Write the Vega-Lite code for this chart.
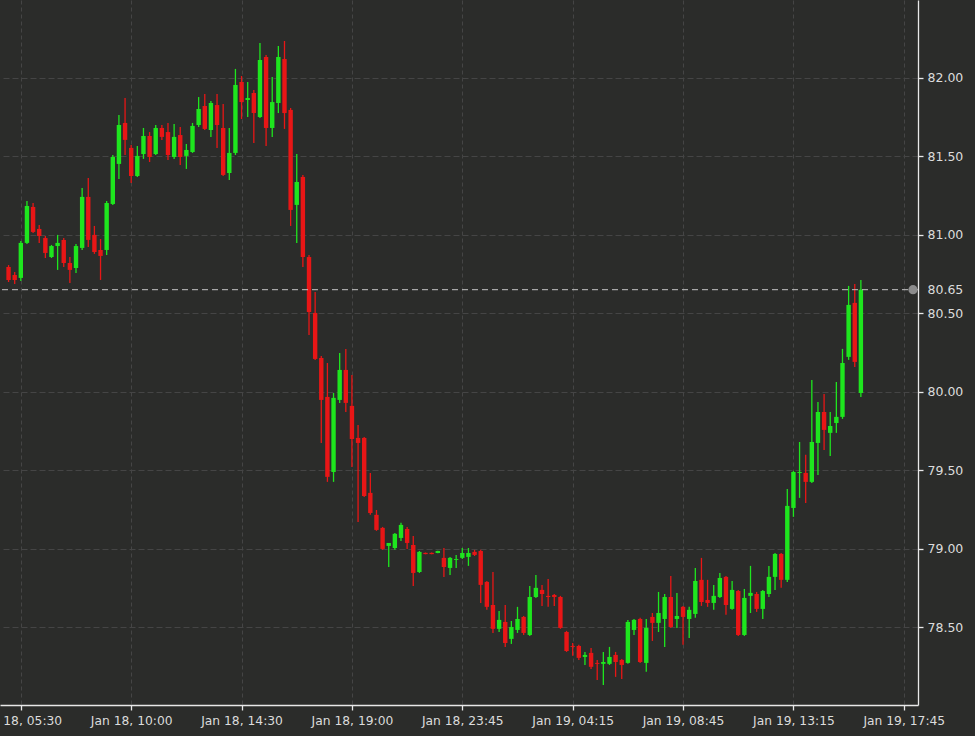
{
  "$schema": "https://vega.github.io/schema/vega-lite/v6.json",
  "width": 918,
  "height": 705,
  "autosize": {"type": "none"},
  "padding": {"left": 0, "top": 0, "right": 57, "bottom": 31},
  "background": "#2b2c2a",
  "config": {"view": {"stroke": null}},
  "data": {"values": [
    {"i":-2,"o":80.795,"h":80.807,"l":80.699,"c":80.712},
    {"i":-1,"o":80.744,"h":80.763,"l":80.687,"c":80.712},
    {"i":0,"o":80.725,"h":80.960,"l":80.706,"c":80.948},
    {"i":1,"o":80.948,"h":81.215,"l":80.941,"c":81.183},
    {"i":2,"o":81.177,"h":81.202,"l":81.011,"c":81.018},
    {"i":3,"o":81.037,"h":81.062,"l":80.948,"c":80.992},
    {"i":4,"o":80.979,"h":80.992,"l":80.852,"c":80.884},
    {"i":5,"o":80.858,"h":80.935,"l":80.852,"c":80.928},
    {"i":6,"o":80.928,"h":80.999,"l":80.776,"c":80.948},
    {"i":7,"o":80.967,"h":80.979,"l":80.795,"c":80.820},
    {"i":8,"o":80.820,"h":80.858,"l":80.693,"c":80.776},
    {"i":9,"o":80.788,"h":80.941,"l":80.757,"c":80.928},
    {"i":10,"o":80.916,"h":81.298,"l":80.903,"c":81.241},
    {"i":11,"o":81.241,"h":81.362,"l":80.922,"c":80.967},
    {"i":12,"o":80.999,"h":81.056,"l":80.878,"c":80.890},
    {"i":13,"o":80.903,"h":80.973,"l":80.712,"c":80.865},
    {"i":14,"o":80.903,"h":81.215,"l":80.871,"c":81.202},
    {"i":15,"o":81.196,"h":81.508,"l":81.190,"c":81.495},
    {"i":16,"o":81.451,"h":81.763,"l":81.355,"c":81.699},
    {"i":17,"o":81.712,"h":81.871,"l":81.508,"c":81.604},
    {"i":18,"o":81.553,"h":81.572,"l":81.330,"c":81.374},
    {"i":19,"o":81.374,"h":81.565,"l":81.368,"c":81.502},
    {"i":20,"o":81.514,"h":81.680,"l":81.483,"c":81.629},
    {"i":21,"o":81.629,"h":81.654,"l":81.463,"c":81.495},
    {"i":22,"o":81.514,"h":81.699,"l":81.508,"c":81.680},
    {"i":23,"o":81.680,"h":81.699,"l":81.604,"c":81.623},
    {"i":24,"o":81.654,"h":81.712,"l":81.476,"c":81.508},
    {"i":25,"o":81.495,"h":81.705,"l":81.483,"c":81.623},
    {"i":26,"o":81.635,"h":81.686,"l":81.444,"c":81.495},
    {"i":27,"o":81.502,"h":81.578,"l":81.419,"c":81.540},
    {"i":28,"o":81.527,"h":81.712,"l":81.521,"c":81.693},
    {"i":29,"o":81.699,"h":81.877,"l":81.686,"c":81.801},
    {"i":30,"o":81.820,"h":81.896,"l":81.667,"c":81.674},
    {"i":31,"o":81.667,"h":81.852,"l":81.623,"c":81.839},
    {"i":32,"o":81.826,"h":81.896,"l":81.553,"c":81.699},
    {"i":33,"o":81.680,"h":81.833,"l":81.374,"c":81.381},
    {"i":34,"o":81.393,"h":81.680,"l":81.349,"c":81.521},
    {"i":35,"o":81.521,"h":82.056,"l":81.508,"c":81.954},
    {"i":36,"o":81.973,"h":82.011,"l":81.737,"c":81.845},
    {"i":37,"o":81.858,"h":81.973,"l":81.750,"c":81.871},
    {"i":38,"o":81.903,"h":81.922,"l":81.584,"c":81.775},
    {"i":39,"o":81.750,"h":82.221,"l":81.744,"c":82.113},
    {"i":40,"o":82.132,"h":82.145,"l":81.565,"c":81.680},
    {"i":41,"o":81.680,"h":82.005,"l":81.623,"c":81.845},
    {"i":42,"o":81.839,"h":82.202,"l":81.775,"c":82.132},
    {"i":43,"o":82.119,"h":82.234,"l":81.674,"c":81.775},
    {"i":44,"o":81.795,"h":81.807,"l":81.056,"c":81.158},
    {"i":45,"o":81.190,"h":81.514,"l":80.948,"c":81.336},
    {"i":46,"o":81.368,"h":81.381,"l":80.795,"c":80.858},
    {"i":47,"o":80.858,"h":80.871,"l":80.362,"c":80.508},
    {"i":48,"o":80.502,"h":80.636,"l":80.203,"c":80.209},
    {"i":49,"o":80.215,"h":80.228,"l":79.674,"c":79.948},
    {"i":50,"o":79.967,"h":80.183,"l":79.426,"c":79.458},
    {"i":51,"o":79.489,"h":79.992,"l":79.426,"c":79.961},
    {"i":52,"o":79.948,"h":80.247,"l":79.929,"c":80.139},
    {"i":53,"o":80.139,"h":80.273,"l":79.871,"c":79.929},
    {"i":54,"o":79.910,"h":80.107,"l":79.521,"c":79.699},
    {"i":55,"o":79.706,"h":79.789,"l":79.171,"c":79.674},
    {"i":56,"o":79.706,"h":79.712,"l":79.330,"c":79.336},
    {"i":57,"o":79.356,"h":79.483,"l":79.216,"c":79.228},
    {"i":58,"o":79.216,"h":79.247,"l":79.114,"c":79.120},
    {"i":59,"o":79.133,"h":79.139,"l":78.993,"c":78.999},
    {"i":60,"o":79.018,"h":79.037,"l":78.884,"c":79.037},
    {"i":61,"o":79.005,"h":79.101,"l":78.993,"c":79.095},
    {"i":62,"o":79.069,"h":79.165,"l":79.050,"c":79.152},
    {"i":63,"o":79.126,"h":79.139,"l":78.999,"c":79.037},
    {"i":64,"o":79.024,"h":79.082,"l":78.763,"c":78.846},
    {"i":65,"o":78.852,"h":78.986,"l":78.846,"c":78.980},
    {"i":66,"o":78.974,"h":78.976,"l":78.965,"c":78.966},
    {"i":67,"o":78.974,"h":78.976,"l":78.965,"c":78.966},
    {"i":68,"o":78.973,"h":78.988,"l":78.972,"c":78.986},
    {"i":69,"o":78.942,"h":79.005,"l":78.821,"c":78.884},
    {"i":70,"o":78.878,"h":78.948,"l":78.833,"c":78.942},
    {"i":71,"o":78.929,"h":78.961,"l":78.878,"c":78.935},
    {"i":72,"o":78.942,"h":79.005,"l":78.935,"c":78.973},
    {"i":73,"o":78.948,"h":79.005,"l":78.891,"c":78.973},
    {"i":74,"o":78.980,"h":78.993,"l":78.954,"c":78.961},
    {"i":75,"o":78.986,"h":78.993,"l":78.655,"c":78.770},
    {"i":76,"o":78.789,"h":78.795,"l":78.611,"c":78.630},
    {"i":77,"o":78.642,"h":78.852,"l":78.464,"c":78.490},
    {"i":78,"o":78.490,"h":78.604,"l":78.470,"c":78.547},
    {"i":79,"o":78.534,"h":78.642,"l":78.375,"c":78.400},
    {"i":80,"o":78.426,"h":78.540,"l":78.394,"c":78.502},
    {"i":81,"o":78.483,"h":78.630,"l":78.464,"c":78.553},
    {"i":82,"o":78.566,"h":78.572,"l":78.451,"c":78.464},
    {"i":83,"o":78.451,"h":78.763,"l":78.445,"c":78.693},
    {"i":84,"o":78.693,"h":78.833,"l":78.687,"c":78.751},
    {"i":85,"o":78.738,"h":78.770,"l":78.636,"c":78.712},
    {"i":86,"o":78.700,"h":78.808,"l":78.630,"c":78.693},
    {"i":87,"o":78.706,"h":78.712,"l":78.636,"c":78.693},
    {"i":88,"o":78.693,"h":78.700,"l":78.490,"c":78.496},
    {"i":89,"o":78.470,"h":78.477,"l":78.343,"c":78.349},
    {"i":90,"o":78.381,"h":78.400,"l":78.318,"c":78.375},
    {"i":91,"o":78.381,"h":78.388,"l":78.292,"c":78.305},
    {"i":92,"o":78.311,"h":78.343,"l":78.260,"c":78.324},
    {"i":93,"o":78.337,"h":78.368,"l":78.235,"c":78.248},
    {"i":94,"o":78.273,"h":78.292,"l":78.165,"c":78.267},
    {"i":95,"o":78.267,"h":78.343,"l":78.133,"c":78.279},
    {"i":96,"o":78.267,"h":78.375,"l":78.260,"c":78.311},
    {"i":97,"o":78.324,"h":78.343,"l":78.184,"c":78.279},
    {"i":98,"o":78.292,"h":78.298,"l":78.171,"c":78.260},
    {"i":99,"o":78.273,"h":78.547,"l":78.267,"c":78.534},
    {"i":100,"o":78.483,"h":78.553,"l":78.451,"c":78.547},
    {"i":101,"o":78.553,"h":78.560,"l":78.273,"c":78.279},
    {"i":102,"o":78.273,"h":78.553,"l":78.216,"c":78.496},
    {"i":103,"o":78.566,"h":78.591,"l":78.413,"c":78.528},
    {"i":104,"o":78.528,"h":78.725,"l":78.470,"c":78.591},
    {"i":105,"o":78.553,"h":78.712,"l":78.375,"c":78.693},
    {"i":106,"o":78.693,"h":78.827,"l":78.496,"c":78.502},
    {"i":107,"o":78.553,"h":78.719,"l":78.496,"c":78.572},
    {"i":108,"o":78.630,"h":78.636,"l":78.388,"c":78.566},
    {"i":109,"o":78.553,"h":78.630,"l":78.432,"c":78.611},
    {"i":110,"o":78.585,"h":78.878,"l":78.560,"c":78.795},
    {"i":111,"o":78.802,"h":78.942,"l":78.636,"c":78.661},
    {"i":112,"o":78.674,"h":78.802,"l":78.630,"c":78.655},
    {"i":113,"o":78.655,"h":78.770,"l":78.611,"c":78.700},
    {"i":114,"o":78.693,"h":78.846,"l":78.687,"c":78.814},
    {"i":115,"o":78.821,"h":78.827,"l":78.579,"c":78.642},
    {"i":116,"o":78.617,"h":78.795,"l":78.611,"c":78.738},
    {"i":117,"o":78.731,"h":78.738,"l":78.445,"c":78.451},
    {"i":118,"o":78.451,"h":78.744,"l":78.445,"c":78.687},
    {"i":119,"o":78.700,"h":78.891,"l":78.591,"c":78.719},
    {"i":120,"o":78.712,"h":78.725,"l":78.598,"c":78.617},
    {"i":121,"o":78.617,"h":78.738,"l":78.553,"c":78.731},
    {"i":122,"o":78.712,"h":78.891,"l":78.693,"c":78.821},
    {"i":123,"o":78.821,"h":78.973,"l":78.738,"c":78.967},
    {"i":124,"o":78.967,"h":78.973,"l":78.751,"c":78.802},
    {"i":125,"o":78.802,"h":79.381,"l":78.789,"c":79.273},
    {"i":126,"o":79.260,"h":79.496,"l":79.203,"c":79.489},
    {"i":127,"o":79.483,"h":79.680,"l":79.324,"c":79.489},
    {"i":128,"o":79.483,"h":79.598,"l":79.292,"c":79.426},
    {"i":129,"o":79.426,"h":80.075,"l":79.419,"c":79.680},
    {"i":130,"o":79.674,"h":79.935,"l":79.470,"c":79.871},
    {"i":131,"o":79.871,"h":79.986,"l":79.629,"c":79.757},
    {"i":132,"o":79.738,"h":79.871,"l":79.591,"c":79.782},
    {"i":133,"o":79.801,"h":80.062,"l":79.738,"c":79.840},
    {"i":134,"o":79.840,"h":80.273,"l":79.827,"c":80.183},
    {"i":135,"o":80.222,"h":80.674,"l":80.203,"c":80.553},
    {"i":136,"o":80.566,"h":80.686,"l":80.158,"c":80.190},
    {"i":137,"o":79.992,"h":80.712,"l":79.967,"c":80.650}
  ]},
  "layer": [
    {
      "mark": {"type": "rule", "strokeWidth": 1.3},
      "encoding": {
        "x": {"field": "i", "type": "quantitative",
          "scale": {"domain": [-2.58, 145.5], "nice": false, "zero": false},
          "axis": {
            "orient": "bottom", "title": null,
            "values": [0, 18, 36, 54, 72, 90, 108, 126, 144],
            "labelExpr": "['Jan 18, 05:30','Jan 18, 10:00','Jan 18, 14:30','Jan 18, 19:00','Jan 18, 23:45','Jan 19, 04:15','Jan 19, 08:45','Jan 19, 13:15','Jan 19, 17:45'][round(datum.value/18)]",
            "labelFlush": false, "labelOverlap": false,
            "labelFont": "DejaVu Sans", "labelFontSize": 12.3, "labelColor": "#dcdcdc",
            "labelPadding": 4,
            "domainColor": "#e8e8e8", "domainWidth": 1.3,
            "tickColor": "#e8e8e8", "tickSize": 5, "tickWidth": 1.3,
            "grid": true, "gridColor": "#454545", "gridDash": [4, 3], "gridWidth": 1
          }
        },
        "y": {"field": "l", "type": "quantitative",
          "scale": {"domain": [78.005, 82.495], "nice": false, "zero": false},
          "axis": {
            "orient": "right", "title": null,
            "values": [78.5, 79, 79.5, 80, 80.5, 81, 81.5, 82, 80.65],
            "format": ".2f",
            "labelOverlap": false, "labelFlush": false,
            "labelFont": "DejaVu Sans", "labelFontSize": 12.5, "labelColor": "#dcdcdc",
            "labelPadding": 4,
            "domainColor": "#e8e8e8", "domainWidth": 1.3,
            "tickColor": {"condition": {"test": "datum.value == 80.65", "value": "transparent"}, "value": "#e8e8e8"},
            "tickSize": 5, "tickWidth": 1.3,
            "grid": true,
            "gridColor": {"condition": {"test": "datum.value == 80.65", "value": "transparent"}, "value": "#454545"},
            "gridDash": [6, 3], "gridWidth": 1
          }
        },
        "y2": {"field": "h"},
        "color": {"condition": {"test": "datum.c >= datum.o", "value": "#1ee61e"}, "value": "#e81616"}
      }
    },
    {
      "mark": {"type": "bar", "width": 4.4, "orient": "vertical"},
      "encoding": {
        "x": {"field": "i", "type": "quantitative"},
        "y": {"field": "o", "type": "quantitative"},
        "y2": {"field": "c"},
        "color": {"condition": {"test": "datum.c >= datum.o", "value": "#1ee61e"}, "value": "#e81616"}
      }
    },
    {
      "data": {"values": [{"last": 80.65}]},
      "mark": {"type": "rule", "strokeDash": [6, 4], "color": "#c4c4c4", "strokeWidth": 1},
      "encoding": {"y": {"field": "last", "type": "quantitative"}}
    },
    {
      "data": {"values": [{"last": 80.65}]},
      "mark": {"type": "point", "filled": true, "size": 85, "color": "#8c8c8c", "opacity": 1},
      "encoding": {
        "x": {"datum": 145.5},
        "y": {"field": "last", "type": "quantitative"}
      }
    }
  ]
}
